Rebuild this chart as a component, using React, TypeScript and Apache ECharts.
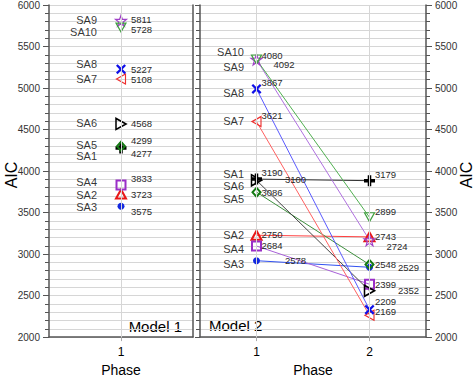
import React, { useEffect, useRef } from 'react';
import * as echarts from 'echarts';

// ---------- data ----------
const saNames = ['SA1', 'SA2', 'SA3', 'SA4', 'SA5', 'SA6', 'SA7', 'SA8', 'SA9', 'SA10'];
// Model 1, phase 1 (plotted value = printed value)
const model1AIC = [4277, 3723, 3575, 3833, 4299, 4568, 5108, 5227, 5811, 5728];
// Model 2: plotted positions and printed AIC labels
const model2Phase1Y = [3903, 3227, 2920, 3097, 3746, 3888, 4596, 4989, 5343, 5343];
const model2Phase2Y = [3884, 3207, 2841, 2637, 2873, 2558, 2263, 2330, 3168, 3443];
const model2Phase1AIC = [3190, 2750, 2578, 2684, 3086, 3100, 3621, 3867, 4092, 4080];
const model2Phase2AIC = [3179, 2743, 2529, 2399, 2548, 2352, 2169, 2209, 2724, 2899];
const phaseCatsModel1 = ['1'];
const phaseCatsModel2 = ['1', '2'];
const yMin = 2000;
const yMax = 6000;
const yStep = 500;

// ---------- styles ----------
const FONT = '"Liberation Sans", Arial, sans-serif';
const PLUS = 'path://M3.4,0H6.6V3.4H10V6.6H6.6V10H3.4V6.6H0V3.4H3.4Z';
const CROSS = 'path://M0,1.6L1.6,0L5,3.4L8.4,0L10,1.6L6.6,5L10,8.4L8.4,10L5,6.6L1.6,10L0,8.4L3.4,5Z';
const STAR = 'path://M50,0L61.76,33.82L97.55,34.55L69.02,56.18L79.39,90.45L50,70L20.61,90.45L30.98,56.18L2.45,34.55L38.24,33.82Z';

const markers: any[] = [
  { symbol: PLUS, size: 11, rotate: 0, fill: '#000', stroke: '#000', bw: 0, line: '#333' },
  { symbol: 'triangle', size: [10, 9], rotate: 0, fill: 'transparent', stroke: '#e81818', bw: 2, line: '#ff4040' },
  { symbol: 'circle', size: 7, rotate: 0, fill: '#1228e0', stroke: '#1228e0', bw: 0, line: '#3050f0' },
  { symbol: 'rect', size: 9, rotate: 0, fill: 'transparent', stroke: '#9a2fc8', bw: 2, line: '#a860d8' },
  { symbol: 'diamond', size: [8, 9], rotate: 0, fill: 'transparent', stroke: '#137a13', bw: 2, line: '#3d8f3d' },
  { symbol: 'triangle', size: [11, 10], rotate: -90, fill: 'transparent', stroke: '#000', bw: 1.6, line: '#444' },
  { symbol: 'triangle', size: [10, 9], rotate: 90, fill: 'transparent', stroke: '#ee3030', bw: 1.2, line: '#ff6060' },
  { symbol: CROSS, size: 10, rotate: 0, fill: '#1010e8', stroke: '#1010e8', bw: 0, line: '#5a5aff' },
  { symbol: STAR, size: 11, rotate: 0, fill: 'transparent', stroke: '#a040c8', bw: 1.2, line: '#b070e0' },
  { symbol: 'triangle', size: [10, 9], rotate: 180, fill: 'transparent', stroke: '#40a040', bw: 1.2, line: '#50b050' },
];

// label offsets [dx, dy] in pixels (SA1..SA10)
const m1NameOff = [[-24, 8], [-24, 1], [-24, 1], [-24, -3.2], [-24, -1], [-24, -0.4], [-24, -0.4], [-24, -4.8], [-24, -0.2], [-24, 4.6]];
const m1ValOff = [[10, 5.7], [10, 0.3], [10, 5.5], [10, -6], [10, -6], [10, -0.4], [10, 0.2], [10, 0.2], [10, -1], [10, 1.6]];
const m2NameOff = [[-12.5, -5.4], [-12.5, -0.7], [-12.5, 3.3], [-12.5, 3], [-12.5, 6.7], [-12.5, 6], [-12.5, -0.7], [-12.5, 3.6], [-12.5, 7.6], [-12.5, -7.4]];
const m2P1Off = [[5, -6.7], [5, -0.7], [28.5, 0], [5, -0.3], [5, 0.7], [28.5, -1], [5, -5.7], [5, -6.4], [17, 5.3], [5, -4]];
const m2P2Off = [[5.5, -6], [5.5, -0.7], [28.5, 0], [5.5, 0], [5.5, 0], [28.5, 0], [5.5, -3.5], [5.5, -8.6], [17, 6], [5.5, -5.7]];

const valLabel = (text: string, off: number[]) => ({
  show: true,
  formatter: text,
  position: 'inside',
  align: 'left',
  verticalAlign: 'middle',
  offset: off,
  fontSize: 9.5,
  lineHeight: 10,
  color: '#2a2a2a',
  fontFamily: FONT,
});
const nameLabel = (text: string, off: number[]) => ({
  show: true,
  formatter: text,
  position: 'inside',
  align: 'right',
  verticalAlign: 'middle',
  offset: off,
  fontSize: 11,
  color: '#000',
  fontFamily: FONT,
});

const xAxisBase = (gridIndex: number, data: string[]) => ({
  type: 'category',
  gridIndex,
  data,
  boundaryGap: true,
  axisLine: { show: true, lineStyle: { color: '#555', width: 1.5 } },
  axisTick: { show: true, alignWithLabel: true, length: 4, lineStyle: { color: '#aaa' } },
  axisLabel: { fontSize: 12, color: '#000', margin: 9, fontFamily: FONT },
  splitLine: { show: false },
  name: 'Phase',
  nameLocation: 'middle',
  nameGap: 24,
  nameTextStyle: { fontSize: 14, color: '#000', fontFamily: FONT },
});

const yAxisBase = (gridIndex: number, position: string) => ({
  type: 'value',
  gridIndex,
  position,
  min: yMin,
  max: yMax,
  interval: yStep,
  axisLine: { show: true, lineStyle: { color: '#555', width: 1.5 } },
  axisTick: { show: false },
  minorTick: { show: false },
  axisLabel: { show: false },
  splitLine: { show: false },
  minorSplitLine: { show: false },
});

const gridLine = { color: '#d6d6d6', width: 1 };
const tickLabel = { show: true, fontSize: 10, color: '#333', margin: 9, fontFamily: FONT, formatter: (v: number) => String(v) };

function buildOption() {
  const series: any[] = [];
  // vertical grid lines at phase positions
  series.push({
    type: 'scatter', xAxisIndex: 0, yAxisIndex: 0, silent: true, symbolSize: 0,
    data: [['1', yMin]],
    markLine: {
      silent: true, symbol: 'none', label: { show: false },
      lineStyle: { color: '#d6d6d6', type: 'solid', width: 1 },
      data: [{ xAxis: '1' }],
    },
  });
  series.push({
    type: 'scatter', xAxisIndex: 1, yAxisIndex: 2, silent: true, symbolSize: 0,
    data: [['1', yMin]],
    markLine: {
      silent: true, symbol: 'none', label: { show: false },
      lineStyle: { color: '#d6d6d6', type: 'solid', width: 1 },
      data: [{ xAxis: '1' }, { xAxis: '2' }],
    },
  });

  // Model 2 lines
  saNames.forEach((name, i) => {
    const m = markers[i];
    series.push({
      type: 'line', name: name + ' M2', xAxisIndex: 1, yAxisIndex: 2, silent: true,
      symbol: m.symbol, symbolSize: m.size, symbolRotate: m.rotate, showSymbol: true, showAllSymbol: true,
      lineStyle: { color: m.line, width: 1 },
      itemStyle: { color: m.fill, borderColor: m.stroke, borderWidth: m.bw },
      z: 3,
      data: [
        { value: [phaseCatsModel2[0], model2Phase1Y[i]], label: valLabel(String(model2Phase1AIC[i]), m2P1Off[i]) },
        { value: [phaseCatsModel2[1], model2Phase2Y[i]], label: valLabel(String(model2Phase2AIC[i]), m2P2Off[i]) },
      ],
    });
    series.push({
      type: 'scatter', xAxisIndex: 1, yAxisIndex: 2, silent: true, symbolSize: 0,
      itemStyle: { color: 'transparent' }, z: 4,
      data: [{ value: [phaseCatsModel2[0], model2Phase1Y[i]], label: nameLabel(name, m2NameOff[i]) }],
    });
  });

  // Model 1 points
  saNames.forEach((name, i) => {
    const m = markers[i];
    series.push({
      type: 'scatter', name: name + ' M1', xAxisIndex: 0, yAxisIndex: 0, silent: true,
      symbol: m.symbol, symbolSize: m.size, symbolRotate: m.rotate,
      itemStyle: { color: m.fill, borderColor: m.stroke, borderWidth: m.bw, opacity: 1 },
      z: 3,
      data: [{ value: [phaseCatsModel1[0], model1AIC[i]], label: valLabel(String(model1AIC[i]), m1ValOff[i]) }],
    });
    series.push({
      type: 'scatter', xAxisIndex: 0, yAxisIndex: 0, silent: true, symbolSize: 0,
      itemStyle: { color: 'transparent' }, z: 4,
      data: [{ value: [phaseCatsModel1[0], model1AIC[i]], label: nameLabel(name, m1NameOff[i]) }],
    });
  });

  return {
    animation: false,
    backgroundColor: '#fff',
    textStyle: { fontFamily: FONT },
    grid: [
      { left: 49, right: 281, top: 5, bottom: 38 },
      { left: 200, right: 48, top: 5, bottom: 38 },
    ],
    xAxis: [xAxisBase(0, phaseCatsModel1), xAxisBase(1, phaseCatsModel2)],
    yAxis: [
      {
        ...yAxisBase(0, 'left'),
        axisTick: { show: true, inside: false, length: 6, lineStyle: { color: '#555' } },
        minorTick: { show: true, splitNumber: 5, length: 4, lineStyle: { color: '#555' } },
        axisLabel: tickLabel,
        splitLine: { show: true, lineStyle: gridLine },
        minorSplitLine: { show: true, lineStyle: gridLine },
      },
      { ...yAxisBase(0, 'right') },
      {
        ...yAxisBase(1, 'left'),
        axisTick: { show: true, inside: false, length: 5, lineStyle: { color: '#555' } },
        minorTick: { show: true, splitNumber: 5, length: 4, lineStyle: { color: '#555' } },
        splitLine: { show: true, lineStyle: gridLine },
        minorSplitLine: { show: true, lineStyle: gridLine },
      },
      {
        ...yAxisBase(1, 'right'),
        axisTick: { show: true, inside: false, length: 6, lineStyle: { color: '#555' } },
        minorTick: { show: true, splitNumber: 5, length: 4, lineStyle: { color: '#555' } },
        axisLabel: tickLabel,
      },
    ],
    graphic: [
      { type: 'text', x: 11, y: 175, rotation: Math.PI / 2, silent: true,
        style: { text: 'AIC', fontSize: 16, fill: '#000', align: 'center', verticalAlign: 'middle', fontFamily: FONT } },
      { type: 'text', x: 466, y: 175, rotation: Math.PI / 2, silent: true,
        style: { text: 'AIC', fontSize: 16, fill: '#000', align: 'center', verticalAlign: 'middle', fontFamily: FONT } },
      { type: 'text', x: 182, y: 326, silent: true,
        style: { text: 'Model 1', fontSize: 15, fill: '#000', align: 'right', verticalAlign: 'middle', fontFamily: FONT } },
      { type: 'text', x: 209, y: 325, silent: true,
        style: { text: 'Model 2', fontSize: 15, fill: '#000', align: 'left', verticalAlign: 'middle', fontFamily: FONT } },
    ],
    series,
  };
}

export default function App() {
  const ref = useRef<HTMLDivElement>(null);
  useEffect(() => {
    if (!ref.current) return;
    const chart = echarts.init(ref.current, undefined, { renderer: 'svg' });
    chart.setOption(buildOption() as any);
    return () => chart.dispose();
  }, []);
  return <div ref={ref} style={{ width: 474, height: 382, position: 'absolute', left: 0, top: 0 }} />;
}
